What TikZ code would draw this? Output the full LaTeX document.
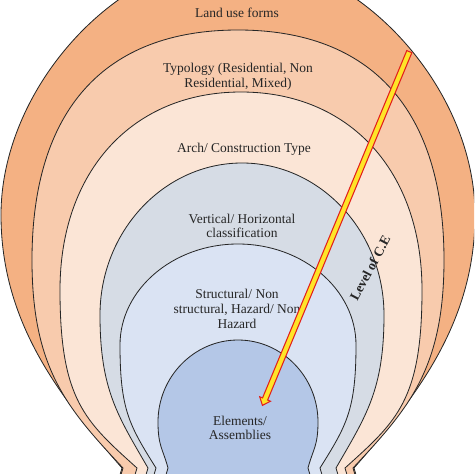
\documentclass[tikz,border=0pt]{standalone}
\usepackage{fontspec}
\setmainfont{Liberation Serif}
\usetikzlibrary{shapes.arrows}
\definecolor{landUse}{HTML}{F4B183}
\definecolor{typology}{HTML}{F8CBAD}
\definecolor{archType}{HTML}{FBE5D6}
\definecolor{vertHor}{HTML}{D6DCE5}
\definecolor{structural}{HTML}{DAE3F3}
\definecolor{elements}{HTML}{B4C7E7}
\definecolor{ceRed}{RGB}{226,32,28}
\definecolor{ceYellow}{RGB}{255,228,40}
% bulb outline: half width, widest y, top y, top bluntness, side pull, neck half width, neck pull, neck angle
\newcommand{\bulb}[8]{(-#6-8,495) -- (-#6,468)
    .. controls ({-#6-#7*sin(#8)},{468-#7*cos(#8)}) and (-#1,{#2+#5}) .. (-#1,#2)
    .. controls (-#1,{#2-#4*(#2-#3)}) and ({-#4*#1},#3) .. (0,#3)
    .. controls ({#4*#1},#3) and (#1,{#2-#4*(#2-#3)}) .. (#1,#2)
    .. controls (#1,{#2+#5}) and ({#6+#7*sin(#8)},{468-#7*cos(#8)}) .. (#6,468)
    -- (#6+8,495) -- cycle}
\begin{document}
\begin{tikzpicture}[x=0.03cm, y=-0.03cm,
    layer/.style={draw=black!85, line width=0.7pt},
    ringtext/.style={font=\fontsize{11.5}{12.5}\selectfont, align=center, text=black!85},
    ceArrow/.style={single arrow, draw=ceRed, fill=ceYellow, line width=0.9pt,
        inner sep=1.9pt, outer sep=0pt, single arrow head extend=2.6pt,
        single arrow tip angle=80, minimum height=11.49cm}]
    \useasboundingbox (-238,0) rectangle (236,474);
    \clip (-238,0) rectangle (236,474);

    % Land use forms
    \draw[layer, fill=landUse] \bulb{237}{215}{-42}{0.5}{110}{116}{90}{41};
    % Typology
    \draw[layer, fill=typology] \bulb{206}{260}{30}{0.65}{110}{115}{80}{43};
    % Arch / construction type
    \draw[layer, fill=archType, shift={(3,0)}] \bulb{181}{290}{92}{0.6}{110}{104}{70}{48};
    % Vertical / horizontal
    \draw[layer, fill=vertHor, shift={(4,0)}] \bulb{142}{315}{163}{0.55}{75}{94}{60}{30};
    % Structural / hazard
    \draw[layer, fill=structural] \bulb{118}{345}{244}{0.55}{65}{82}{50}{32};
    % Elements
    \draw[layer, fill=elements] \bulb{80}{422}{340}{0.55}{24}{70}{20}{15};

    % Labels
    \node[ringtext] (landuse) at (-1,13) {Land use forms};
    \node[ringtext] (typology) at (0,77) {Typology (Residential, Non\\Residential, Mixed)};
    \node[ringtext] (arch) at (6,149) {Arch/ Construction Type};
    \node[ringtext] (vertical) at (4,226) {Vertical/ Horizontal\\classification};
    \node[ringtext] (struct) at (-1,309) {Structural/ Non\\structural, Hazard/ Non\\Hazard};
    \node[ringtext] (elem) at (2,428) {Elements/\\Assemblies};
    \node[ringtext, font=\bfseries\fontsize{11.5}{12}\selectfont, rotate=62] (level) at (132,268) {Level of C.E};

    % Level of C.E arrow
    \coordinate (ceTail) at (172,50);
    \coordinate (ceTip) at (25,404);
    \path (ceTail) -- node[ceArrow, sloped, allow upside down] (ceHead) {} (ceTip);
\end{tikzpicture}
\end{document}
